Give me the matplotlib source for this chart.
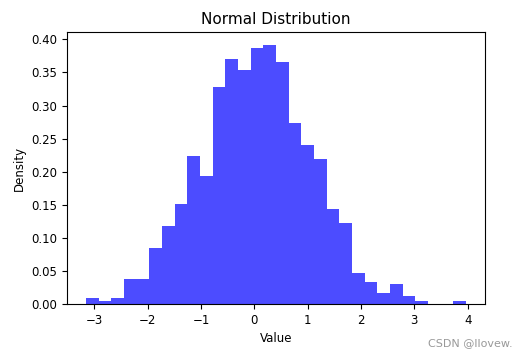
import numpy as np
import matplotlib.pyplot as plt

# histogram of 1000 samples, 30 bins
bin_lo = -3.156
bin_hi = 3.972
counts = [2, 1, 2, 9, 9, 20, 28, 36, 53, 46,
          78, 88, 84, 92, 93, 87, 65, 57, 52, 34,
          29, 11, 8, 4, 7, 3, 1, 0, 0, 1]

edges = np.linspace(bin_lo, bin_hi, len(counts) + 1)
centers = (edges[:-1] + edges[1:]) / 2

fig = plt.figure(figsize=(5.2, 3.53), dpi=100)
ax = fig.add_axes([0.129, 0.139, 0.804, 0.770])
ax.hist(centers, bins=edges, weights=counts, density=True, color='blue', alpha=0.7)
ax.set_title('Normal Distribution', fontsize=11)
ax.set_xlabel('Value', fontsize=8.5)
ax.set_ylabel('Density', fontsize=8.5)
ax.tick_params(labelsize=8.5)
ax.set_yticks(np.arange(0, 0.41, 0.05))
fig.text(0.985, 0.015, 'CSDN @llovew.', ha='right', va='bottom', fontsize=8, color='#999999')
fig.savefig('out.png')
